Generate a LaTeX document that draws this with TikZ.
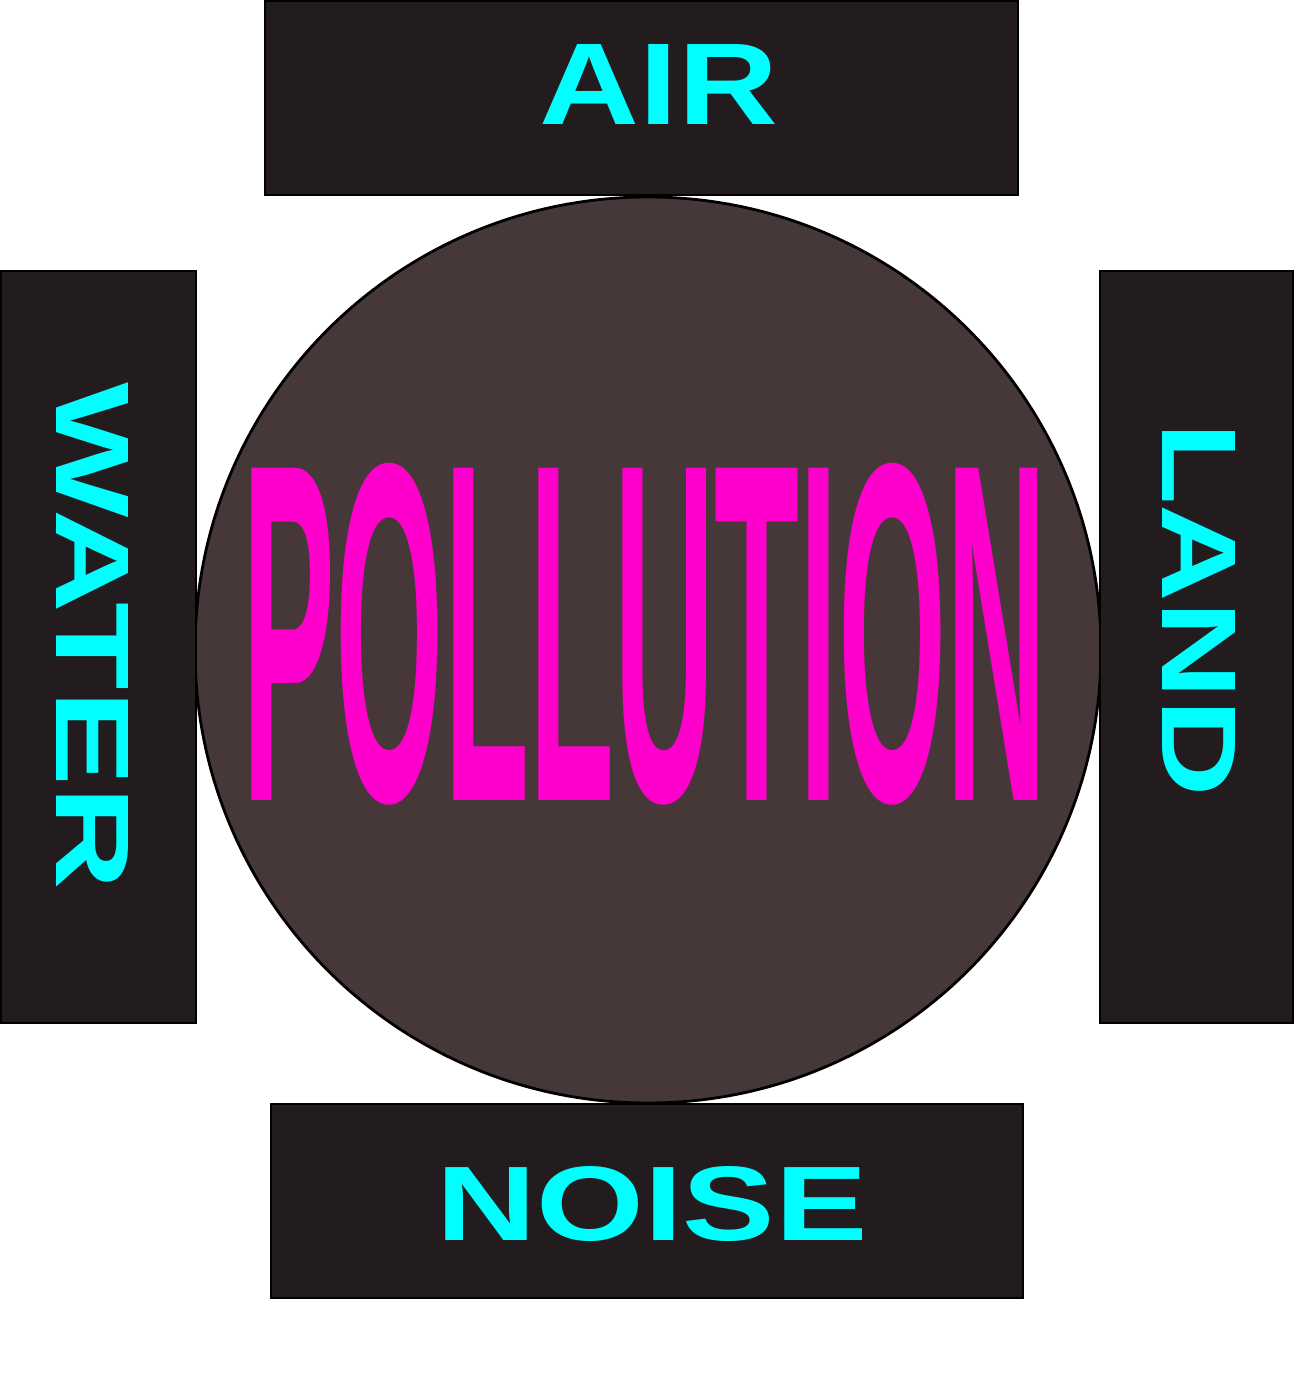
\documentclass[tikz,border=0pt]{standalone}
\usepackage{fontspec}
\setmainfont{Liberation Sans}
\usepackage{graphicx}
\definecolor{boxfill}{HTML}{231C1E}
\definecolor{discfill}{HTML}{463838}
\definecolor{labelcyan}{HTML}{00FFFF}
\definecolor{labelpink}{HTML}{FF00CC}
\tikzset{
  panel/.style={draw=black,line width=0.8pt,fill=boxfill,inner sep=0pt},
  tag/.style={text=labelcyan,font=\bfseries,inner sep=0pt},
}
\begin{document}
\begin{tikzpicture}
\useasboundingbox (0,0) rectangle (12.94,13.90);
\node[panel,circle,minimum size=9.06cm,fill=discfill] (pollution) at (6.48,7.40) {};
\node[panel,minimum width=7.53cm,minimum height=1.94cm] (air) at (6.415,12.92) {};
\node[panel,minimum width=1.95cm,minimum height=7.52cm] (water) at (0.985,7.43) {};
\node[panel,minimum width=1.93cm,minimum height=7.52cm] (land) at (11.965,7.43) {};
\node[panel,minimum width=7.52cm,minimum height=1.94cm] (noise) at (6.47,1.89) {};
% labels
\node[tag] (airtext) at (6.59,13.05) {\resizebox{2.38cm}{0.80cm}{AIR}};
\node[tag] (noisetext) at (6.52,1.86) {\resizebox{4.31cm}{0.74cm}{NOISE}};
\node[tag,rotate=-90] (watertext) at (0.925,7.54) {\resizebox{5.07cm}{0.72cm}{WATER}};
\node[tag,rotate=-90] (landtext) at (11.985,7.805) {\resizebox{3.75cm}{0.73cm}{LAND}};
\node[tag,text=labelpink] (pollutiontext) at (6.45,7.56) {\resizebox{8.04cm}{3.37cm}{POLLUTION}};
\end{tikzpicture}
\end{document}
